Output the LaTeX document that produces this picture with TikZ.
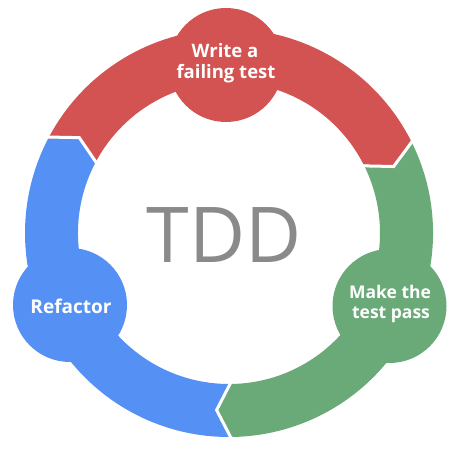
\documentclass[tikz,border=0pt]{standalone}
\usepackage{fontspec}
\setmainfont{Open Sans}
\definecolor{tddred}{HTML}{D35352}
\definecolor{tddgreen}{HTML}{6AAA78}
\definecolor{tddblue}{HTML}{5591F5}
\definecolor{tddgray}{HTML}{8A8A8A}
\tikzset{
  stagecircle/.style={circle, minimum size=114pt, inner sep=0pt, draw=none},
  stagetext/.style={text=white, anchor=base, inner sep=0pt, font=\bfseries\fontsize{18.5}{22}\selectfont},
  gapline/.style={draw=white, line width=3pt, line join=miter},
}
\begin{document}
\begin{tikzpicture}[x=1pt,y=1pt]
\useasboundingbox (0,0) rectangle (460,-460);
\begin{scope}[shift={(229,-233)}]
  % ring segments
  \fill[tddred] (152.5:204pt) arc[start angle=152.5,end angle=27,radius=204pt]
     -- (22:177.5pt) -- (27:151pt) arc[start angle=27,end angle=152.5,radius=151pt]
     -- (147.5:177.5pt) -- cycle;
  \fill[tddgreen] (27:204pt) arc[start angle=27,end angle=-89,radius=204pt]
     -- (-94:177.5pt) -- (-89:151pt) arc[start angle=-89,end angle=27,radius=151pt]
     -- (22:177.5pt) -- cycle;
  \fill[tddblue] (271:204pt) arc[start angle=271,end angle=152.5,radius=204pt]
     -- (147.5:177.5pt) -- (152.5:151pt) arc[start angle=152.5,end angle=271,radius=151pt]
     -- (266:177.5pt) -- cycle;
  % gaps
  \coordinate (g1a) at (27:148pt);  \coordinate (g1b) at (22:177.5pt);  \coordinate (g1c) at (27:208pt);
  \coordinate (g2a) at (-89:148pt); \coordinate (g2b) at (-94:177.5pt); \coordinate (g2c) at (-89:208pt);
  \coordinate (g3a) at (152.5:148pt); \coordinate (g3b) at (147.5:177.5pt); \coordinate (g3c) at (152.5:208pt);
  \draw[gapline] (g1a) -- (g1b) -- (g1c);
  \draw[gapline] (g2a) -- (g2b) -- (g2c);
  \draw[gapline] (g3a) -- (g3b) -- (g3c);
  % circles
  \node[stagecircle, fill=tddred] (write) at (-3,168) {};
  \node[stagecircle, fill=tddgreen] (make) at (160.5,-73) {};
  \node[stagecircle, fill=tddblue] (refactor) at (-159,-72) {};
\end{scope}
\node[stagetext] (t1) at (225,-57) {Write a};
\node[stagetext] (t2) at (226,-78) {failing test};
\node[stagetext, font=\bfseries\fontsize{17.5}{21}\selectfont] (t3) at (390,-298) {Make the};
\node[stagetext, font=\bfseries\fontsize{17.5}{21}\selectfont] (t4) at (391,-318) {test pass};
\node[stagetext, font=\bfseries\fontsize{19}{22}\selectfont] (t5) at (71,-313) {Refactor};
\node[anchor=base, inner sep=0pt, text=tddgray, font=\fontsize{77}{80}\selectfont] (tdd) at (224,-262) {TDD};
\end{tikzpicture}
\end{document}
